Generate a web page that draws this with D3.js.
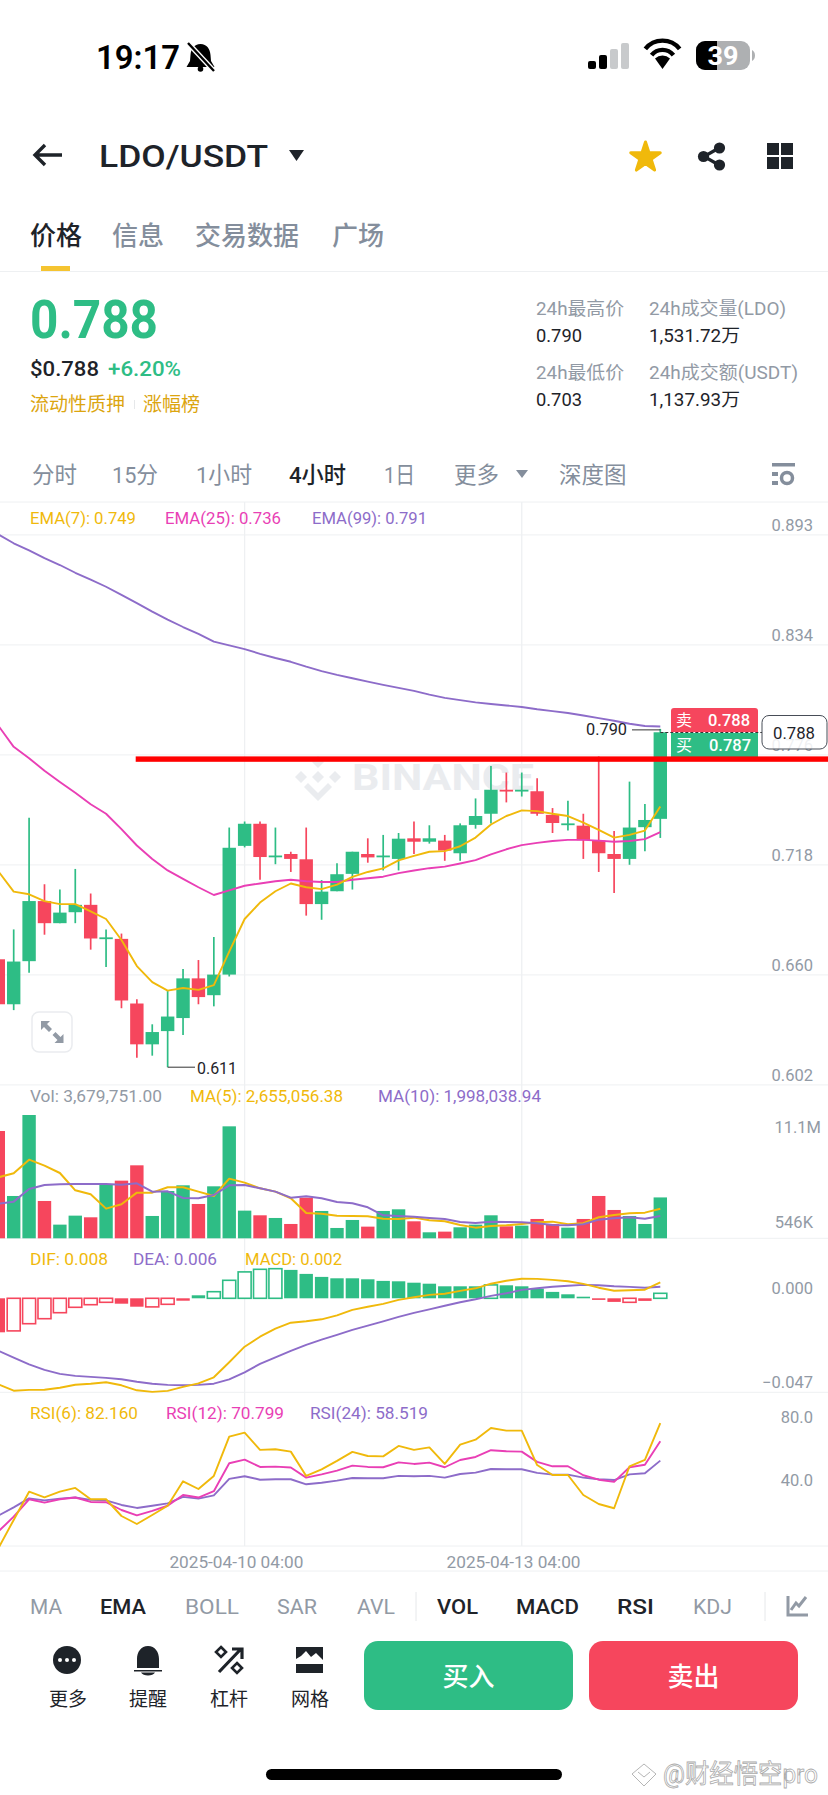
<!DOCTYPE html>
<html>
<head>
<meta charset="utf-8">
<script src="https://cdn.jsdelivr.net/npm/d3@7"></script>
<style>
html, body { margin: 0; padding: 0; background: #fff; }
svg { display: block; }
text { font-family: Roboto, "Noto Sans CJK SC", sans-serif; dominant-baseline: central; }
</style>
</head>
<body>
<div id="chart"></div>
<script>
// values, one entry per 4h candle
const openPrice = [0.6682,0.6444,0.6672,0.6990,0.6873,0.6931,0.6970,0.6792,0.6790,0.6448,0.6232,0.6302,0.6371,0.6581,0.6492,0.6601,0.7282,0.7399,0.7227,0.7239,0.7211,0.6974,0.7042,0.7134,0.7239,0.7225,0.7213,0.7322,0.7304,0.7310,0.7243,0.7393,0.7452,0.7579,0.7573,0.7571,0.7446,0.7395,0.7389,0.7310,0.7239,0.7213,0.7381,0.7425];
const closePrice = [0.6444,0.6670,0.6990,0.6873,0.6929,0.6970,0.6792,0.6798,0.6464,0.6232,0.6297,0.6379,0.6581,0.6482,0.6601,0.7272,0.7399,0.7223,0.7231,0.7213,0.6974,0.7040,0.7132,0.7251,0.7221,0.7231,0.7320,0.7304,0.7322,0.7257,0.7391,0.7440,0.7579,0.7573,0.7579,0.7452,0.7403,0.7401,0.7312,0.7243,0.7213,0.7379,0.7419,0.7883];
const highPrice = [0.6682,0.6840,0.7431,0.7079,0.7051,0.7160,0.7030,0.6840,0.6818,0.6470,0.6338,0.6514,0.6630,0.6678,0.6800,0.7379,0.7411,0.7411,0.7379,0.7251,0.7379,0.7101,0.7190,0.7251,0.7322,0.7340,0.7350,0.7411,0.7391,0.7340,0.7401,0.7533,0.7705,0.7670,0.7670,0.7640,0.7482,0.7521,0.7452,0.7755,0.7361,0.7622,0.7503,0.7901];
const lowPrice = [0.6444,0.6413,0.6611,0.6812,0.6873,0.6873,0.6733,0.6641,0.6423,0.6161,0.6172,0.6111,0.6281,0.6444,0.6433,0.6591,0.7274,0.7103,0.7185,0.7144,0.6913,0.6891,0.7042,0.7051,0.7193,0.7152,0.7152,0.7239,0.7294,0.7203,0.7203,0.7373,0.7401,0.7512,0.7543,0.7442,0.7350,0.7363,0.7213,0.7144,0.7033,0.7182,0.7254,0.7324];

const ema7 = [0.7148,0.7040,0.7026,0.6990,0.6974,0.6974,0.6935,0.6895,0.6784,0.6646,0.6561,0.6516,0.6530,0.6520,0.6545,0.6723,0.6895,0.6982,0.7042,0.7083,0.7063,0.7053,0.7077,0.7118,0.7144,0.7163,0.7205,0.7229,0.7251,0.7254,0.7280,0.7326,0.7395,0.7440,0.7470,0.7466,0.7452,0.7440,0.7405,0.7367,0.7326,0.7340,0.7363,0.7490];
const ema25 = [0.7918,0.7806,0.7746,0.7679,0.7620,0.7563,0.7502,0.7452,0.7371,0.7284,0.7213,0.7152,0.7107,0.7063,0.7022,0.7047,0.7071,0.7083,0.7095,0.7103,0.7095,0.7091,0.7091,0.7103,0.7111,0.7119,0.7138,0.7152,0.7164,0.7172,0.7189,0.7207,0.7237,0.7264,0.7286,0.7298,0.7308,0.7314,0.7314,0.7310,0.7304,0.7308,0.7318,0.7355];
const ema99 = [0.8930,0.8883,0.8845,0.8804,0.8768,0.8727,0.8691,0.8653,0.8610,0.8566,0.8521,0.8479,0.8440,0.8404,0.8363,0.8343,0.8323,0.8298,0.8276,0.8256,0.8230,0.8207,0.8187,0.8169,0.8151,0.8134,0.8118,0.8102,0.8082,0.8065,0.8053,0.8041,0.8033,0.8025,0.8017,0.8005,0.7995,0.7985,0.7972,0.7958,0.7944,0.7928,0.7916,0.7914];

// volume in millions
const volume = [9.66,3.81,11.1,3.36,1.23,2.04,1.89,4.86,5.19,6.57,2.01,4.26,4.77,3.09,4.68,10.08,2.49,2.07,1.83,1.29,3.66,2.46,0.93,1.65,1.05,2.46,2.61,1.53,0.54,0.60,0.99,1.23,2.07,1.08,1.14,1.74,1.29,0.96,1.74,3.81,2.55,2.01,1.29,3.68];
const volMa5 = [5.49,5.85,7.08,6.54,5.88,4.32,3.96,2.67,3.06,4.11,4.11,4.59,4.59,4.20,3.81,5.37,5.01,4.50,4.20,3.60,2.28,2.22,2.04,2.01,1.98,1.77,1.74,1.86,1.62,1.53,1.20,0.96,1.11,1.17,1.29,1.44,1.50,1.26,1.35,1.89,2.10,2.25,2.31,2.655];
const volMa10 = [3.12,3.30,4.44,4.80,4.86,4.89,4.89,4.89,4.83,4.95,4.20,4.23,3.63,3.60,3.90,4.77,4.80,4.50,4.20,3.66,3.78,3.60,3.27,3.15,2.79,2.07,2.01,1.95,1.83,1.74,1.47,1.38,1.50,1.47,1.44,1.35,1.20,1.17,1.26,1.68,1.80,1.89,1.77,2.00];

const macdHist = [-0.0170,-0.0163,-0.0127,-0.0102,-0.0072,-0.0045,-0.0032,-0.0020,-0.0027,-0.0042,-0.0043,-0.0030,-0.0012,0.0015,0.0033,0.0090,0.0132,0.0145,0.0148,0.0142,0.0122,0.0107,0.0100,0.0100,0.0095,0.0087,0.0085,0.0078,0.0073,0.0060,0.0060,0.0060,0.0067,0.0065,0.0060,0.0048,0.0032,0.0020,0.0008,-0.0008,-0.0018,-0.0020,-0.0013,0.0025];
const macdHollow = [1,2,3,4,5,6,7,10,11,14,15,16,17,18,32,41,43];
const dif = [-0.0430,-0.0462,-0.0458,-0.0457,-0.0447,-0.0432,-0.0427,-0.0420,-0.0435,-0.0460,-0.0468,-0.0463,-0.0443,-0.0425,-0.0395,-0.0320,-0.0242,-0.0192,-0.0152,-0.0122,-0.0115,-0.0105,-0.0085,-0.0058,-0.0042,-0.0028,-0.0008,0.0005,0.0017,0.0023,0.0037,0.0050,0.0073,0.0088,0.0098,0.0097,0.0092,0.0085,0.0072,0.0053,0.0038,0.0040,0.0043,0.0080];
const dea = [-0.0262,-0.0297,-0.0330,-0.0358,-0.0378,-0.0388,-0.0393,-0.0398,-0.0405,-0.0417,-0.0427,-0.0433,-0.0435,-0.0433,-0.0427,-0.0405,-0.0370,-0.0328,-0.0295,-0.0263,-0.0233,-0.0207,-0.0183,-0.0158,-0.0137,-0.0115,-0.0093,-0.0073,-0.0055,-0.0037,-0.0020,-0.0005,0.0012,0.0025,0.0042,0.0050,0.0058,0.0063,0.0067,0.0065,0.0060,0.0057,0.0053,0.0058];

const rsi6 = [2.9,20.9,38.8,35.2,38.8,41.2,34.0,34.0,23.4,18.3,24.0,29.9,45.4,40.5,48.8,73.7,76.2,65.3,65.7,64.2,48.8,53.0,58.3,64.0,61.4,61.2,67.8,65.3,66.9,56.4,68.6,71.8,79.2,77.5,77.5,55.7,49.4,49.4,36.7,31.0,28.3,54.9,58.9,82.2];
const rsi12 = [13.5,23.0,34.0,31.9,34.0,35.1,32.3,32.1,27.2,23.8,26.6,29.9,36.7,35.1,39.1,56.8,59.1,54.5,54.7,54.1,47.7,49.8,52.2,55.3,54.5,54.3,57.4,56.4,57.2,54.3,58.9,60.8,65.1,64.4,64.2,57.7,54.9,54.9,49.2,46.4,45.0,54.3,55.9,70.8];
const rsi24 = [23.6,28.9,34.6,33.3,34.4,35.1,33.6,33.3,30.4,28.5,29.9,31.4,35.5,34.4,36.5,46.9,48.6,46.4,46.7,46.7,43.5,44.5,45.8,47.5,47.3,47.3,48.8,48.6,48.8,47.7,50.0,50.9,53.2,53.0,53.0,50.7,49.6,49.6,47.7,46.7,46.2,49.8,50.5,58.5];

const priceTicks = [0.893,0.8348,0.7766,0.7184,0.6602,0.602];
const priceTickLabels = ["0.893","0.834","0.776","0.718","0.660","0.602"];
const volTicks = [11.1,0.546];
const volTickLabels = ["11.1M","546K"];
const macdTicks = [0,-0.047];
const rsiTicks = [80,40];
const dateTicks = [16,34];
const dateTickLabels = ["2025-04-10 04:00","2025-04-13 04:00"];

const GREEN = "#2ebd85", RED = "#f6465d", YELLOW = "#f0b90b", PINK = "#e93fb5", PURPLE = "#8d6cc9";
const GREY = "#929aa5", DARK = "#1e2329", GRID = "#eef0f2";

const svg = d3.select("#chart").append("svg").attr("width", 828).attr("height", 1795);

// x is the candle index, y scales are one per panel
const idx = d3.range(openPrice.length);
const x = d3.scaleLinear().domain([0, 43]).range([-1.7, 660.3]);
const yPrice = d3.scaleLinear().domain([0.602, 0.893]).range([1084.4, 534.4]);
const yVol = d3.scaleLinear().domain([0, 11.1]).range([1238.3, 1115]);
const yMacd = d3.scaleLinear().domain([-0.047, 0]).range([1392.3, 1298.3]);
const yRsi = d3.scaleLinear().domain([40, 80]).range([1489.8, 1426.7]);

function label(g, px, py, str, opt) {
    opt = opt || {};
    let t = g.append("text").attr("x", px).attr("y", py).text(str)
        .attr("font-size", opt.size || 16)
        .attr("fill", opt.fill || GREY)
        .attr("font-weight", opt.weight || 400)
        .attr("text-anchor", opt.anchor || "start");
    if (opt.width) t.attr("textLength", opt.width).attr("lengthAdjust", "spacingAndGlyphs");
    return t;
}

function drawLine(g, values, yScale, color, w) {
    let line = d3.line().x((d, i) => x(i)).y(d => yScale(d));
    g.append("path").datum(values).attr("d", line)
        .attr("fill", "none").attr("stroke", color).attr("stroke-width", w || 1.9)
        .attr("stroke-linejoin", "round");
}

function rightAxis(scale, ticks, fmt, size, dy) {
    let g = svg.append("g").call(d3.axisRight(scale).tickValues(ticks).tickSize(size).tickFormat(fmt));
    g.select(".domain").remove();
    g.selectAll("line").attr("stroke", GRID);
    g.selectAll("text").attr("x", 813).attr("dy", dy).attr("text-anchor", "end")
        .attr("fill", GREY).attr("font-size", 16.5)
        .style("font-family", 'Roboto, "Noto Sans CJK SC", sans-serif');
    return g;
}

// ---------- status bar and header ----------
const head = svg.append("g");
label(head, 96, 57, "19:17", {size: 33, fill: "#000", weight: 600, width: 84});
head.append("path").attr("fill", "#000")
    .attr("d", "M200.5 44c-6.5 0-9.5 5-10 11l-.5 6-3.5 6h28l-3.5-6-.5-6c-.5-6-3.5-11-10-11z");
head.append("circle").attr("cx", 200.5).attr("cy", 69).attr("r", 2.8).attr("fill", "#000");
head.append("line").attr("x1", 188).attr("y1", 43).attr("x2", 214).attr("y2", 71).attr("stroke", "#fff").attr("stroke-width", 5);
head.append("line").attr("x1", 188).attr("y1", 43).attr("x2", 214).attr("y2", 71).attr("stroke", "#000").attr("stroke-width", 2.4);
[[588, 61, "#000"], [599, 55, "#000"], [610, 49, "#c8cacc"], [621, 43, "#c8cacc"]].forEach(b => {
    head.append("rect").attr("x", b[0]).attr("y", b[1]).attr("width", 8).attr("height", 69 - b[1]).attr("rx", 2).attr("fill", b[2]);
});
[[662.5, 66, 22], [662.5, 66, 14]].forEach(a => {
    head.append("path").attr("d", `M${a[0] - a[2] * 0.78} ${a[1] - a[2] * 0.78}A${a[2]} ${a[2]} 0 0 1 ${a[0] + a[2] * 0.78} ${a[1] - a[2] * 0.78}`)
        .attr("fill", "none").attr("stroke", "#000").attr("stroke-width", 4.4);
});
head.append("path").attr("d", "M655 58.5a11 11 0 0 1 15 0L662.5 69z").attr("fill", "#000");
head.append("rect").attr("x", 696).attr("y", 41).attr("width", 54).attr("height", 29).attr("rx", 9).attr("fill", "#aeb0b2");
head.append("path").attr("d", "M717 41h-12a9 9 0 0 0-9 9v11a9 9 0 0 0 9 9h12z").attr("fill", "#000");
head.append("path").attr("d", "M752 50c2 1 3 3 3 5.500s-1 4.500-3 5.500z").attr("fill", "#aeb0b2");
label(head, 723, 56, "39", {size: 26, fill: "#fff", weight: 700, anchor: "middle", width: 31});

head.append("path").attr("d", "M62 155H35M45 145l-10 10 10 10").attr("fill", "none").attr("stroke", DARK).attr("stroke-width", 3.4);
label(head, 99, 156, "LDO/USDT", {size: 32, fill: DARK, weight: 500, width: 169});
head.append("path").attr("d", "M289 150h15l-7.500 11z").attr("fill", DARK);
head.append("path").attr("transform", "translate(645.5,157.5)").attr("d", d3.symbol(d3.symbolStar).size(270)())
    .attr("fill", YELLOW).attr("stroke", YELLOW).attr("stroke-width", 3).attr("stroke-linejoin", "round");
head.append("path").attr("d", "M719 148L704 156.500L719 165").attr("fill", "none").attr("stroke", DARK).attr("stroke-width", 3.2);
[[719.5, 148], [703.5, 156.5], [719.5, 165]].forEach(c => {
    head.append("circle").attr("cx", c[0]).attr("cy", c[1]).attr("r", 5.6).attr("fill", DARK);
});
[[767, 143], [781, 143], [767, 157], [781, 157]].forEach(c => {
    head.append("rect").attr("x", c[0]).attr("y", c[1]).attr("width", 12).attr("height", 12).attr("fill", DARK);
});

label(head, 30, 236, "价格", {size: 26, fill: DARK, weight: 500});
label(head, 112, 236, "信息", {size: 26, fill: "#848e9c", weight: 500});
label(head, 195, 236, "交易数据", {size: 26, fill: "#848e9c", weight: 500});
label(head, 332, 236, "广场", {size: 26, fill: "#848e9c", weight: 500});
head.append("rect").attr("x", 41).attr("y", 266).attr("width", 29).attr("height", 5).attr("fill", "#f5c431");
head.append("line").attr("x1", 0).attr("x2", 828).attr("y1", 271.5).attr("y2", 271.5).attr("stroke", GRID);

label(head, 30, 319, "0.788", {size: 54, fill: GREEN, weight: 700, width: 128});
label(head, 30, 369, "$0.788", {size: 21, fill: DARK, weight: 500, width: 69});
label(head, 108, 369, "+6.20%", {size: 21, fill: GREEN, weight: 500, width: 73});
label(head, 30, 404, "流动性质押", {size: 19, fill: "#dca50f"});
head.append("line").attr("x1", 134.500).attr("x2", 134.500).attr("y1", 400).attr("y2", 409).attr("stroke", "#e6e8ea");
label(head, 143, 404, "涨幅榜", {size: 19, fill: "#dca50f"});

label(head, 536, 308, "24h最高价", {size: 18, width: 88});
label(head, 649, 308, "24h成交量(LDO)", {size: 18, width: 137});
label(head, 536, 335, "0.790", {size: 18, fill: DARK, width: 46});
label(head, 649, 335, "1,531.72万", {size: 18, fill: DARK, width: 91});
label(head, 536, 372, "24h最低价", {size: 18, width: 88});
label(head, 649, 372, "24h成交额(USDT)", {size: 18, width: 149});
label(head, 536, 399, "0.703", {size: 18, fill: DARK, width: 46});
label(head, 649, 399, "1,137.93万", {size: 18, fill: DARK, width: 91});

label(head, 32, 475, "分时", {size: 22.500, fill: "#848e9c"});
label(head, 112, 475, "15分", {size: 22.500, fill: "#848e9c", width: 46});
label(head, 196, 475, "1小时", {size: 22.500, fill: "#848e9c", width: 56});
label(head, 289, 475, "4小时", {size: 22.500, fill: DARK, weight: 500, width: 57});
label(head, 384, 475, "1日", {size: 22.500, fill: "#848e9c", width: 31});
label(head, 454, 475, "更多", {size: 22.500, fill: "#848e9c"});
head.append("path").attr("d", "M516 470h12l-6 8z").attr("fill", "#848e9c");
label(head, 559, 475, "深度图", {size: 22.500, fill: "#848e9c"});
head.append("rect").attr("x", 772).attr("y", 463).attr("width", 23).attr("height", 3.500).attr("fill", "#848e9c");
head.append("rect").attr("x", 772).attr("y", 472).attr("width", 6).attr("height", 4).attr("fill", "#848e9c");
head.append("rect").attr("x", 772).attr("y", 481).attr("width", 6).attr("height", 4).attr("fill", "#848e9c");
head.append("circle").attr("cx", 787).attr("cy", 478).attr("r", 5.500).attr("fill", "none").attr("stroke", "#848e9c").attr("stroke-width", 3.500);

// ---------- grid and axes ----------
const grid = svg.append("g").attr("stroke", GRID);
[502, 1238.3, 1392.3, 1546, 1571].forEach(v => {
    grid.append("line").attr("x1", 0).attr("x2", 828).attr("y1", v).attr("y2", v);
});
grid.selectAll(".vgrid").data(dateTicks).enter().append("line").attr("class", "vgrid")
    .attr("x1", d => x(d)).attr("x2", d => x(d)).attr("y1", 502).attr("y2", 1546).attr("stroke-width", 1.300);

rightAxis(yPrice, priceTicks, (d, i) => priceTickLabels[i], 828, -9.500);

// watermark sits behind the candles
const mark = svg.append("g").attr("fill", "#eaecef");
label(mark, 352, 777, "BINANCE", {size: 37, fill: "#eaecef", weight: 700, width: 182});
[[318, 762, 6], [301, 777, 6], [335, 777, 6], [318, 777, 6]].forEach(c => {
    mark.append("path").attr("d", `M${c[0]} ${c[1] - c[2]}l${c[2]} ${c[2]}l${-c[2]} ${c[2]}l${-c[2]} ${-c[2]}z`);
});
mark.append("path").attr("d", "M318 801l-14-14 4-4 10 10 10-10 4 4z");

// ---------- candles ----------
const candles = svg.append("g");
const candleColor = i => closePrice[i] >= openPrice[i] ? GREEN : RED;
candles.selectAll(".wick").data(idx).enter().append("line").attr("class", "wick")
    .attr("x1", d => x(d)).attr("x2", d => x(d))
    .attr("y1", d => yPrice(highPrice[d])).attr("y2", d => yPrice(lowPrice[d]))
    .attr("stroke", candleColor).attr("stroke-width", 1.700);
candles.selectAll(".body").data(idx).enter().append("rect").attr("class", "body")
    .attr("x", d => x(d) - 6.700).attr("width", 13.400)
    .attr("y", d => yPrice(Math.max(openPrice[d], closePrice[d])))
    .attr("height", d => Math.max(1.800, Math.abs(yPrice(openPrice[d]) - yPrice(closePrice[d]))))
    .attr("fill", candleColor);

drawLine(svg, ema99, yPrice, PURPLE);
drawLine(svg, ema25, yPrice, PINK);
drawLine(svg, ema7, yPrice, YELLOW);

label(svg, 30, 518, "EMA(7): 0.749", {fill: YELLOW, width: 106});
label(svg, 165, 518, "EMA(25): 0.736", {fill: PINK, width: 116});
label(svg, 312, 518, "EMA(99): 0.791", {fill: PURPLE, width: 115});

// high and low markers
svg.append("line").attr("x1", 632).attr("x2", x(43)).attr("y1", yPrice(highPrice[43]) + 1).attr("y2", yPrice(highPrice[43]) + 1).attr("stroke", "#333");
label(svg, 586, 729, "0.790", {fill: "#1e2329", width: 41});
svg.append("line").attr("x1", x(11)).attr("x2", 195).attr("y1", yPrice(lowPrice[11])).attr("y2", yPrice(lowPrice[11])).attr("stroke", "#333");
label(svg, 197, 1068.500, "0.611", {fill: "#1e2329", width: 40});

// expand button
const expand = svg.append("g");
expand.append("rect").attr("x", 32).attr("y", 1012).attr("width", 40).attr("height", 40).attr("rx", 7)
    .attr("fill", "#fff").attr("stroke", "#eaecef").attr("stroke-width", 1.500);
expand.append("path").attr("d", "M41 1021h9l-3 3 5 5-3 3-5-5-3 3zM63.500 1043h-9l3-3-5-5 3-3 5 5 3-3z").attr("fill", "#929aa5");

// ---------- current price tags ----------
svg.append("line").attr("x1", x(43)).attr("x2", 762).attr("y1", 732.500).attr("y2", 732.500)
    .attr("stroke", "#333").attr("stroke-dasharray", "3,2");
const tag = svg.append("g");
tag.append("path").attr("d", "M671 732v-21a3 3 0 0 1 3-3h81a3 3 0 0 1 3 3v21z").attr("fill", RED);
tag.append("rect").attr("x", 671).attr("y", 733).attr("width", 87).attr("height", 24).attr("fill", GREEN);
label(tag, 676, 720, "卖", {size: 16, fill: "#fff"});
label(tag, 708, 720, "0.788", {size: 17, fill: "#fff", weight: 500, width: 42});
label(tag, 676, 745, "买", {size: 16, fill: "#fff"});
label(tag, 709, 745, "0.787", {size: 17, fill: "#fff", weight: 500, width: 42});
tag.append("rect").attr("x", 762).attr("y", 715.500).attr("width", 65).attr("height", 33.500).attr("rx", 7)
    .attr("fill", "rgba(255,255,255,0.85)").attr("stroke", "#474d57");
label(tag, 794, 733, "0.788", {size: 17, fill: DARK, anchor: "middle", width: 42});

// red line drawn over the chart
svg.append("rect").attr("x", 135.700).attr("y", 756.400).attr("width", 692.300).attr("height", 5.400).attr("fill", "#ff0000");

// ---------- volume ----------
svg.selectAll(".vol").data(idx).enter().append("rect").attr("class", "vol")
    .attr("x", d => x(d) - 6.700).attr("width", 13.400)
    .attr("y", d => yVol(volume[d])).attr("height", d => yVol(0) - yVol(volume[d]))
    .attr("fill", candleColor);
drawLine(svg, volMa5, yVol, YELLOW, 2);
drawLine(svg, volMa10, yVol, PURPLE, 2);
const volAxis = rightAxis(yVol, volTicks, (d, i) => volTickLabels[i], 0, 0);
volAxis.selectAll("text").attr("dy", (d, i) => i == 0 ? 12 : -10).attr("x", (d, i) => i == 0 ? 821 : 813);
label(svg, 30, 1096, "Vol: 3,679,751.00", {width: 132});
label(svg, 190, 1096, "MA(5): 2,655,056.38", {fill: YELLOW, width: 153});
label(svg, 378, 1096, "MA(10): 1,998,038.94", {fill: PURPLE, width: 163});

// ---------- macd ----------
const macdColor = d => macdHist[d] >= 0 ? GREEN : RED;
svg.selectAll(".macd").data(idx).enter().append("rect").attr("class", "macd")
    .attr("x", d => x(d) - (macdHollow.includes(d) ? 6.500 : 6.700))
    .attr("width", d => macdHollow.includes(d) ? 13 : 13.400)
    .attr("y", d => Math.min(yMacd(macdHist[d]), yMacd(0)))
    .attr("height", d => Math.max(1, Math.abs(yMacd(macdHist[d]) - yMacd(0))))
    .attr("fill", d => macdHollow.includes(d) ? "#fff" : macdColor(d))
    .attr("stroke", d => macdHollow.includes(d) ? macdColor(d) : "none")
    .attr("stroke-width", 1.600);
drawLine(svg, dea, yMacd, PURPLE);
drawLine(svg, dif, yMacd, YELLOW);
rightAxis(yMacd, macdTicks, d3.format(".3f"), 0, -10);
label(svg, 30, 1259, "DIF: 0.008", {fill: YELLOW, width: 78});
label(svg, 133, 1259, "DEA: 0.006", {fill: PURPLE, width: 84});
label(svg, 245, 1259, "MACD: 0.002", {fill: YELLOW, width: 97});

// ---------- rsi ----------
drawLine(svg, rsi24, yRsi, PURPLE);
drawLine(svg, rsi12, yRsi, PINK);
drawLine(svg, rsi6, yRsi, YELLOW);
rightAxis(yRsi, rsiTicks, d3.format(".1f"), 0, -10);
label(svg, 30, 1413, "RSI(6): 82.160", {fill: YELLOW, width: 108});
label(svg, 166, 1413, "RSI(12): 70.799", {fill: PINK, width: 118});
label(svg, 310, 1413, "RSI(24): 58.519", {fill: PURPLE, width: 118});

// date axis, labels sit a little left of the candle they name
const dateAxis = svg.append("g").attr("transform", "translate(0,1546)")
    .call(d3.axisBottom(x).tickValues(dateTicks).tickSize(0).tickFormat((d, i) => dateTickLabels[i]));
dateAxis.select(".domain").remove();
dateAxis.selectAll("text").attr("x", -8.700).attr("y", 0).attr("dy", 16).attr("fill", GREY).attr("font-size", 16.500)
    .style("font-family", 'Roboto, "Noto Sans CJK SC", sans-serif')
    .attr("textLength", 134).attr("lengthAdjust", "spacingAndGlyphs");

// ---------- bottom bar ----------
const bottom = svg.append("g");
[["MA", 30, 32, 0], ["EMA", 100, 46, 1], ["BOLL", 185, 54, 0], ["SAR", 277, 40, 0], ["AVL", 357, 38, 0],
 ["VOL", 437, 41, 1], ["MACD", 516, 63, 1], ["RSI", 617, 37, 1], ["KDJ", 693, 39, 0]].forEach(t => {
    label(bottom, t[1], 1607, t[0], {size: 21, fill: t[3] ? DARK : "#929aa5", weight: t[3] ? 500 : 400, width: t[2]});
});
[416, 765].forEach(v => {
    bottom.append("line").attr("x1", v).attr("x2", v).attr("y1", 1592).attr("y2", 1621).attr("stroke", "#e6e8ea");
});
bottom.append("path").attr("d", "M788 1596v19h20M791 1610l5-7 3 3 7-9").attr("fill", "none").attr("stroke", "#929aa5").attr("stroke-width", 3);

bottom.append("circle").attr("cx", 67).attr("cy", 1660).attr("r", 14).attr("fill", DARK);
[60, 67, 74].forEach(v => {
    bottom.append("circle").attr("cx", v).attr("cy", 1660).attr("r", 2).attr("fill", "#fff");
});
bottom.append("path").attr("fill", DARK)
    .attr("d", "M148 1646c-7 0-11 6-11 13v9h22v-9c0-7-4-13-11-13zM134 1670h28v1.500h-28zM141 1672.500h14c-1 2-4 3-7 3s-6-1-7-3z");
bottom.append("path").attr("d", "M219 1672L240 1650M232 1649h10v10").attr("fill", "none").attr("stroke", DARK).attr("stroke-width", 3.200);
bottom.append("path").attr("d", "M221 1647l5 5-5 5-5-5zM237 1663l5 5-5 5-5-5z").attr("fill", "none").attr("stroke", DARK).attr("stroke-width", 2.600);
bottom.append("path").attr("d", "M296 1647h27v13l-7-7-5 4-5-6-5 5-5 3zM296 1664h27v9h-27z").attr("fill", DARK);

[["更多", 68], ["提醒", 148], ["杠杆", 229], ["网格", 310]].forEach(t => {
    label(bottom, t[1], 1699, t[0], {size: 19, fill: DARK, anchor: "middle"});
});

bottom.append("rect").attr("x", 364).attr("y", 1641).attr("width", 209).attr("height", 69).attr("rx", 14).attr("fill", GREEN);
bottom.append("rect").attr("x", 589).attr("y", 1641).attr("width", 209).attr("height", 69).attr("rx", 14).attr("fill", RED);
label(bottom, 468.500, 1677, "买入", {size: 26, fill: "#fff", weight: 500, anchor: "middle"});
label(bottom, 693.500, 1677, "卖出", {size: 26, fill: "#fff", weight: 500, anchor: "middle"});

bottom.append("rect").attr("x", 266).attr("y", 1769).attr("width", 296).attr("height", 11).attr("rx", 5.500).attr("fill", "#000");
bottom.append("path").attr("d", "M644 1764l12 10-12 12-12-12zM638 1772l6 5 6-5").attr("fill", "none").attr("stroke", "#b5b5b5");
label(bottom, 663, 1774, "@财经悟空pro", {size: 26, fill: "#fff", width: 155})
    .attr("stroke", "#aaa").attr("stroke-width", 0.800);
</script>
</body>
</html>
